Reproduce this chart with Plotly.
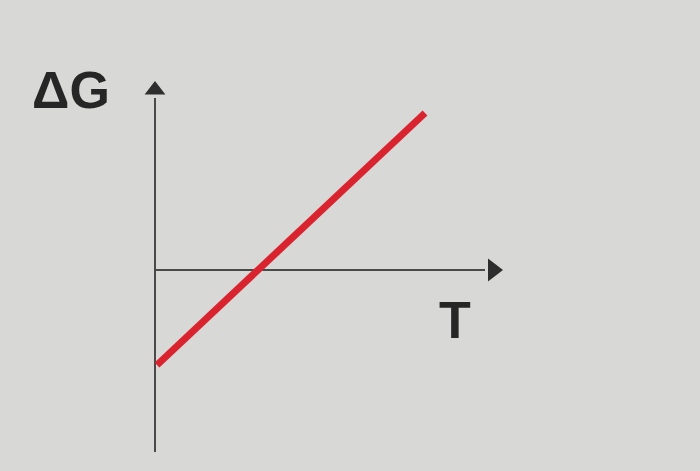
import plotly.graph_objects as go

# Values in the chart's own units (origin where the axes cross)
temperature = [2, 270]
delta_g = [-95, 157]

# axis extents
t_axis = [0, 330]
g_axis = [-182, 172]
axis_labels = ["ΔG", "T"]

fig = go.Figure()

# axes
fig.add_trace(go.Scatter(x=t_axis, y=[0, 0], mode="lines",
                         line=dict(color="#4a4a4a", width=2), hoverinfo="skip"))
fig.add_trace(go.Scatter(x=[0, 0], y=g_axis, mode="lines",
                         line=dict(color="#4a4a4a", width=2), hoverinfo="skip"))
# arrow heads
fig.add_trace(go.Scatter(x=[t_axis[1] + 8], y=[0], mode="markers",
                         marker=dict(symbol="triangle-right", size=20, color="#2e2e2e"),
                         hoverinfo="skip"))
fig.add_trace(go.Scatter(x=[0], y=[g_axis[1] + 8], mode="markers",
                         marker=dict(symbol="triangle-up", size=18, color="#2e2e2e"),
                         hoverinfo="skip"))

# ΔG vs T line
fig.add_trace(go.Scatter(x=temperature, y=delta_g, mode="lines",
                         line=dict(color="#d9242f", width=7), hoverinfo="skip"))

fig.add_annotation(x=-84, y=180, text="<b>" + axis_labels[0] + "</b>", showarrow=False,
                   font=dict(family="Liberation Sans", size=52, color="#262626"))
fig.add_annotation(x=300, y=-50, text="<b>" + axis_labels[1] + "</b>", showarrow=False,
                   font=dict(family="Liberation Sans", size=52, color="#262626"))

fig.update_layout(
    width=700, height=471,
    margin=dict(l=0, r=0, t=0, b=0),
    paper_bgcolor="#d8d8d6",
    plot_bgcolor="#d8d8d6",
    showlegend=False,
    xaxis=dict(range=[-155, 545], visible=False, fixedrange=True),
    yaxis=dict(range=[-201, 270], visible=False, fixedrange=True),
)

fig.write_html("out.html",
               config={"displayModeBar": False},
               post_script="document.body.style.margin='0';"
                           "document.body.style.overflow='hidden';")
